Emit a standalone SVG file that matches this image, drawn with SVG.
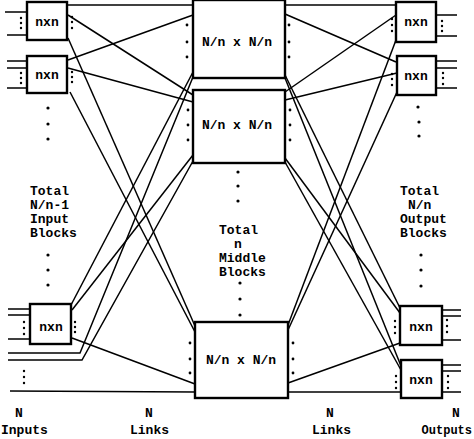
<svg xmlns="http://www.w3.org/2000/svg" width="474" height="439" viewBox="0 0 474 439">
<style>
.blk{fill:#fff;stroke:#000;stroke-width:2.4}
.ln{fill:none;stroke:#000;stroke-width:1.5}
.t{font-family:"Liberation Mono","DejaVu Sans Mono",monospace;font-weight:bold;font-size:13px;fill:#000}
.tm{text-anchor:middle}
.d{fill:#000}
</style>
<rect width="474" height="439" fill="#fff"/>
<g id="connectors" class="ln">
<path d="M5 12H27M7 35H27M7 61H27M7 68H27M7 88H27M8 309H30M8 315H30M8 339H30"/>
<path d="M436 15H457M436 36H457M436 61H457M436 68H457M436 88H457M442 310H461M442 316H461M442 340H461M442 365H461M442 371H461M442 392H461"/>
<path d="M67 5H193"/>
<path d="M68 60L193 15"/>
<path d="M71 305L193 72"/>
<path d="M8 353H80L193 77"/>
<path d="M68 15L193 95"/>
<path d="M68 68L193 102"/>
<path d="M72 310L193 155"/>
<path d="M8 360H82L193 161"/>
<path d="M68 38L195 326"/>
<path d="M70 92L195 332"/>
<path d="M72 338L195 384"/>
<path d="M10 391L195 392"/>
<path d="M285 5H396"/>
<path d="M285 14L396 62"/>
<path d="M285 75L400 308"/>
<path d="M285 78L401 366"/>
<path d="M285 92L396 15"/>
<path d="M285 100L397 73"/>
<path d="M285 158L400 313"/>
<path d="M285 162L401 370"/>
<path d="M288 325L396 40"/>
<path d="M288 330L397 92"/>
<path d="M288 383L400 343"/>
<path d="M288 392L401 392"/>
</g>
<g id="in1"><rect class="blk" x="27" y="2" width="40" height="38"/><text class="t tm" x="47" y="26">nxn</text>
<circle class="d" cx="21" cy="18" r="1.2"/><circle class="d" cx="21" cy="23" r="1.2"/><circle class="d" cx="21" cy="28" r="1.2"/>
<circle class="d" cx="72" cy="17" r="1.2"/><circle class="d" cx="72" cy="22" r="1.2"/><circle class="d" cx="72" cy="28" r="1.2"/></g>
<g id="in2"><rect class="blk" x="27" y="56" width="40" height="37"/><text class="t tm" x="47" y="79">nxn</text>
<circle class="d" cx="21" cy="73" r="1.2"/><circle class="d" cx="21" cy="78" r="1.2"/><circle class="d" cx="21" cy="83" r="1.2"/>
<circle class="d" cx="72" cy="72" r="1.2"/><circle class="d" cx="72" cy="77" r="1.2"/><circle class="d" cx="72" cy="82" r="1.2"/></g>
<g id="in3"><rect class="blk" x="30" y="304" width="41" height="40"/><text class="t tm" x="51" y="331">nxn</text>
<circle class="d" cx="24" cy="322" r="1.2"/><circle class="d" cx="24" cy="328" r="1.2"/><circle class="d" cx="24" cy="334" r="1.2"/>
<circle class="d" cx="75" cy="322" r="1.2"/><circle class="d" cx="75" cy="327" r="1.2"/><circle class="d" cx="75" cy="332" r="1.2"/></g>
<g id="in-dots">
<circle class="d" cx="24" cy="371" r="1.2"/><circle class="d" cx="24" cy="377" r="1.2"/><circle class="d" cx="24" cy="383" r="1.2"/>
<circle class="d" cx="48" cy="108" r="1.6"/><circle class="d" cx="48" cy="124" r="1.6"/><circle class="d" cx="48" cy="139" r="1.6"/>
<circle class="d" cx="48" cy="255" r="1.6"/><circle class="d" cx="48" cy="270" r="1.6"/><circle class="d" cx="48" cy="285" r="1.6"/>
<text class="t" x="30" y="195">Total</text>
<text class="t" x="30" y="209">N/n-1</text>
<text class="t" x="30" y="223">Input</text>
<text class="t" x="30" y="237">Blocks</text></g>
<g id="mid1"><rect class="blk" x="193" y="0" width="92" height="78"/><text class="t tm" x="237" y="46">N/n x N/n</text>
<circle class="d" cx="187" cy="25" r="1.4"/><circle class="d" cx="187" cy="42" r="1.4"/><circle class="d" cx="187" cy="57" r="1.4"/>
<circle class="d" cx="289" cy="25" r="1.4"/><circle class="d" cx="289" cy="42" r="1.4"/><circle class="d" cx="289" cy="57" r="1.4"/></g>
<g id="mid2"><rect class="blk" x="193" y="90" width="92" height="73"/><text class="t tm" x="237" y="129">N/n x N/n</text>
<circle class="d" cx="188" cy="110" r="1.4"/><circle class="d" cx="188" cy="125" r="1.4"/><circle class="d" cx="188" cy="140" r="1.4"/>
<circle class="d" cx="290" cy="110" r="1.4"/><circle class="d" cx="290" cy="125" r="1.4"/><circle class="d" cx="290" cy="140" r="1.4"/></g>
<g id="mid3"><rect class="blk" x="195" y="322" width="93" height="76"/><text class="t tm" x="241" y="364">N/n x N/n</text>
<circle class="d" cx="190" cy="343" r="1.4"/><circle class="d" cx="190" cy="359" r="1.4"/><circle class="d" cx="190" cy="373" r="1.4"/>
<circle class="d" cx="293" cy="343" r="1.4"/><circle class="d" cx="293" cy="359" r="1.4"/><circle class="d" cx="293" cy="373" r="1.4"/></g>
<g id="mid-dots">
<circle class="d" cx="238" cy="172" r="1.6"/><circle class="d" cx="238" cy="186" r="1.6"/><circle class="d" cx="238" cy="201" r="1.6"/>
<circle class="d" cx="240" cy="283" r="1.6"/><circle class="d" cx="240" cy="299" r="1.6"/><circle class="d" cx="240" cy="315" r="1.6"/>
<text class="t" x="219" y="234">Total</text>
<text class="t" x="234" y="248">n</text>
<text class="t" x="219" y="262">Middle</text>
<text class="t" x="219" y="276">Blocks</text></g>
<g id="out1"><rect class="blk" x="396" y="2" width="40" height="40"/><text class="t tm" x="416" y="26">nxn</text>
<circle class="d" cx="392" cy="19" r="1.2"/><circle class="d" cx="392" cy="25" r="1.2"/><circle class="d" cx="392" cy="31" r="1.2"/>
<circle class="d" cx="442" cy="21" r="1.2"/><circle class="d" cx="442" cy="26" r="1.2"/><circle class="d" cx="442" cy="31" r="1.2"/></g>
<g id="out2"><rect class="blk" x="397" y="56" width="39" height="39"/><text class="t tm" x="416" y="80">nxn</text>
<circle class="d" cx="392" cy="74" r="1.2"/><circle class="d" cx="392" cy="79" r="1.2"/><circle class="d" cx="392" cy="85" r="1.2"/>
<circle class="d" cx="443" cy="73" r="1.2"/><circle class="d" cx="443" cy="78" r="1.2"/><circle class="d" cx="443" cy="84" r="1.2"/></g>
<g id="out3"><rect class="blk" x="400" y="306" width="42" height="39"/><text class="t tm" x="421" y="331">nxn</text>
<circle class="d" cx="395" cy="321" r="1.2"/><circle class="d" cx="395" cy="327" r="1.2"/><circle class="d" cx="395" cy="333" r="1.2"/>
<circle class="d" cx="447" cy="320" r="1.2"/><circle class="d" cx="447" cy="326" r="1.2"/><circle class="d" cx="447" cy="332" r="1.2"/></g>
<g id="out4"><rect class="blk" x="401" y="360" width="41" height="38"/><text class="t tm" x="421" y="384">nxn</text>
<circle class="d" cx="396" cy="376" r="1.2"/><circle class="d" cx="396" cy="382" r="1.2"/><circle class="d" cx="396" cy="388" r="1.2"/>
<circle class="d" cx="448" cy="376" r="1.2"/><circle class="d" cx="448" cy="382" r="1.2"/><circle class="d" cx="448" cy="388" r="1.2"/></g>
<g id="out-dots">
<circle class="d" cx="418" cy="107" r="1.6"/><circle class="d" cx="419" cy="122" r="1.6"/><circle class="d" cx="419" cy="136" r="1.6"/>
<circle class="d" cx="421" cy="255" r="1.6"/><circle class="d" cx="421" cy="270" r="1.6"/><circle class="d" cx="421" cy="286" r="1.6"/>
<text class="t" x="400" y="195">Total</text>
<text class="t" x="408" y="209">N/n</text>
<text class="t" x="400" y="223">Output</text>
<text class="t" x="400" y="237">Blocks</text></g>
<g id="labels">
<text class="t tm" x="19" y="417">N</text><text class="t" x="1" y="434">Inputs</text>
<text class="t tm" x="149" y="417">N</text><text class="t" x="130" y="434">Links</text>
<text class="t tm" x="330" y="417">N</text><text class="t" x="312" y="434">Links</text>
<text class="t tm" x="456" y="417">N</text><text class="t" x="472" y="434" text-anchor="end" style="font-size:12px">Outputs</text>
</g>
</svg>
